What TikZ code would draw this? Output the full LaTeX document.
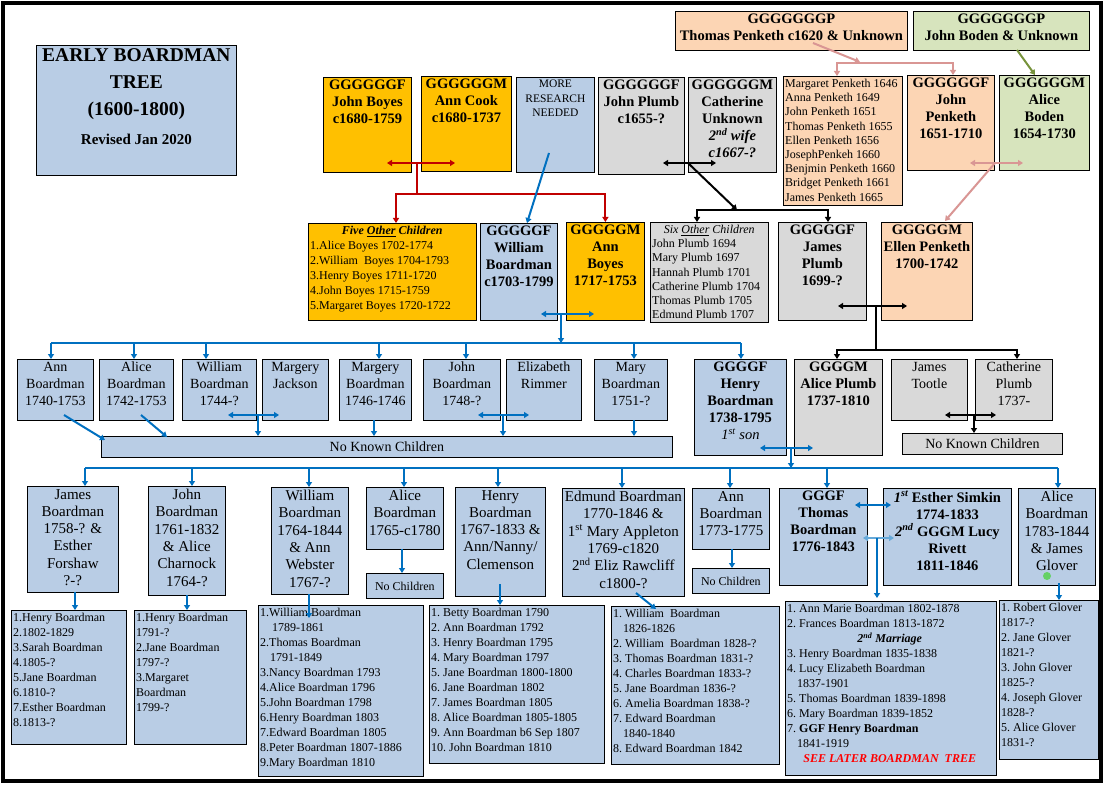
\documentclass[tikz,border=0pt]{standalone}
\usepackage{fontspec}
\setmainfont{Liberation Serif}
\usetikzlibrary{arrows.meta}
\definecolor{lb}{HTML}{B9CDE5}
\definecolor{org}{HTML}{FFC000}
\definecolor{gry}{HTML}{D9D9D9}
\definecolor{pch}{HTML}{FCD5B4}
\definecolor{grn}{HTML}{D7E4BD}
\definecolor{rd}{HTML}{C00000}
\definecolor{bl}{HTML}{0070C0}
\definecolor{pk}{HTML}{D99694}
\definecolor{gn}{HTML}{77933C}
\newcommand\bx[8]{\node[draw=black,line width=0.8pt,fill=#6,anchor=north west,inner sep=0pt,minimum width={(#4-#2)*1pt},minimum height={(#5-#3)*1pt}] (#1) at (#2,#3) {};
\node[anchor=north,inner sep=1pt,align=center,font=#7] (#1t) at ([yshift=-2pt]#1.north) {#8};}
\newcommand\lx[8]{\node[draw=black,line width=0.8pt,fill=#6,anchor=north west,inner sep=0pt,minimum width={(#4-#2)*1pt},minimum height={(#5-#3)*1pt}] (#1) at (#2,#3) {};
\node[anchor=north west,inner sep=1pt,align=left,font=#7] (#1t) at ([xshift=1pt,yshift=-2pt]#1.north west) {#8};}
\newcommand\fb{\fontsize{14.5}{17}\selectfont\bfseries}
\newcommand\fr{\fontsize{15}{17.3}\selectfont}
\newcommand\fs{\fontsize{14}{17}\selectfont}
\newcommand\fm{\fontsize{12}{15}\selectfont}
\newcommand\fp{\fontsize{12}{14.2}\selectfont}
\tikzset{ar/.style={-{Triangle[length=5pt,width=6pt]},line width=2pt},
 dar/.style={{Triangle[length=5pt,width=6pt]}-{Triangle[length=5pt,width=6pt]},line width=2pt}}
\begin{document}
\begin{tikzpicture}[x=1pt,y=-1pt]
\fill[white] (0,0) rectangle (1108,786);
\useasboundingbox (0,0) rectangle (1108,786);
\draw[line width=3.5pt] (3,3) rectangle (1101,781);
% title
\bx{title}{36}{45}{236}{175}{lb}{\fontsize{19.5}{27}\selectfont\bfseries}{EARLY BOARDMAN\\TREE\\(1600-1800)\\[2pt]{\fontsize{15}{18}\selectfont Revised Jan 2020}}
% top row
\bx{tp}{675}{11}{907}{50}{pch}{\fb}{GGGGGGGP\\Thomas Penketh c1620 \& Unknown}
\bx{jb}{913}{11}{1089}{50}{grn}{\fb}{GGGGGGGP\\John Boden \& Unknown}
\bx{jboy}{323}{77}{411}{172}{org}{\fb}{GGGGGGF\\John Boyes\\c1680-1759}
\bx{acook}{421}{76}{511}{171}{org}{\fb}{GGGGGGM\\Ann Cook\\c1680-1737}
\bx{mrn}{516}{77}{594}{172}{lb}{\fontsize{11.5}{14.5}\selectfont}{MORE\\RESEARCH\\NEEDED}
\bx{jplumb}{598}{77}{684}{174}{gry}{\fb}{GGGGGGF\\John Plumb\\c1655-?}
\bx{cath}{688}{77}{776}{172}{gry}{\fb}{GGGGGGM\\Catherine\\Unknown\\\itshape 2\textsuperscript{nd} wife\\\itshape c1667-?}
\lx{pkl}{783}{76}{902}{205}{pch}{\fp}{Margaret Penketh 1646\\Anna Penketh 1649\\John Penketh 1651\\Thomas Penketh 1655\\Ellen Penketh 1656\\JosephPenkeh 1660\\Benjmin Penketh 1660\\Bridget Penketh 1661\\James Penketh 1665}
\bx{jpen}{907}{75}{994}{170}{pch}{\fb}{GGGGGGF\\John\\Penketh\\1651-1710}
\bx{abod}{999}{75}{1089}{170}{grn}{\fb}{GGGGGGM\\Alice\\Boden\\1654-1730}
% row 2
\lx{five}{308}{223}{476}{320}{org}{\fm}{\hbox to 164pt{\hfil\bfseries\itshape Five \underline{Other} Children\hfil}\\1.Alice Boyes 1702-1774\\2.William\ \ Boyes 1704-1793\\3.Henry Boyes 1711-1720\\4.John Boyes 1715-1759\\5.Margaret Boyes 1720-1722}
\bx{wb}{480}{223}{557}{320}{lb}{\fb}{GGGGGF\\William\\Boardman\\c1703-1799}
\bx{aboy}{566}{222}{644}{320}{org}{\fb}{GGGGGM\\Ann\\Boyes\\1717-1753}
\lx{six}{650}{222}{768}{322}{gry}{\fp}{\hbox to 114pt{\hfil\itshape Six \underline{Other} Children\hfil}\\John Plumb 1694\\Mary Plumb 1697\\Hannah Plumb 1701\\Catherine Plumb 1704\\Thomas Plumb 1705\\Edmund Plumb 1707}
\bx{jamp}{778}{222}{866}{320}{gry}{\fb}{GGGGGF\\James\\Plumb\\1699-?}
\bx{ellen}{881}{222}{972}{320}{pch}{\fb}{GGGGGM\\Ellen Penketh\\1700-1742}
% row 3
\bx{r3a}{17}{359}{93}{420}{lb}{\fs}{Ann\\Boardman\\1740-1753}
\bx{r3b}{99}{359}{173}{420}{lb}{\fs}{Alice\\Boardman\\1742-1753}
\bx{r3c}{182}{359}{256}{420}{lb}{\fs}{William\\Boardman\\1744-?}
\bx{r3d}{262}{359}{328}{420}{lb}{\fs}{Margery\\Jackson}
\bx{r3e}{339}{359}{411}{420}{lb}{\fs}{Margery\\Boardman\\1746-1746}
\bx{r3f}{423}{359}{500}{420}{lb}{\fs}{John\\Boardman\\1748-?}
\bx{r3g}{506}{359}{581}{420}{lb}{\fs}{Elizabeth\\Rimmer}
\bx{r3h}{594}{359}{667}{420}{lb}{\fs}{Mary\\Boardman\\1751-?}
\bx{hen}{694}{359}{786}{455}{lb}{\fb}{GGGGF\\Henry\\Boardman\\1738-1795\\\itshape\mdseries 1\textsuperscript{st} son}
\bx{aplu}{794}{359}{882}{455}{gry}{\fb}{GGGGM\\Alice Plumb\\1737-1810}
\bx{jtoo}{891}{359}{967}{420}{gry}{\fs}{James\\Tootle}
\bx{cplu}{975}{359}{1052}{420}{gry}{\fs}{Catherine\\Plumb\\1737-}
\node[draw=black,line width=0.8pt,fill=lb,anchor=north west,minimum width=571pt,minimum height=21pt,inner sep=0pt,font=\fs] (nkc) at (101,436) {No Known Children};
\node[draw=black,line width=0.8pt,fill=gry,anchor=north west,minimum width=160pt,minimum height=21pt,inner sep=0pt,font=\fs] (nkc2) at (902,433) {No Known Children};
% row 4
\bx{j4}{27}{486}{118}{592}{lb}{\fr}{James\\Boardman\\1758-? \&\\Esther\\Forshaw\\?-?}
\bx{jo4}{148}{486}{225}{595}{lb}{\fr}{John\\Boardman\\1761-1832\\\& Alice\\Charnock\\1764-?}
\bx{w4}{271}{487}{348}{594}{lb}{\fr}{William\\Boardman\\1764-1844\\\& Ann\\Webster\\1767-?}
\bx{a4}{366}{487}{443}{549}{lb}{\fr}{Alice\\Boardman\\1765-c1780}
\node[draw=black,line width=0.8pt,fill=lb,anchor=north west,minimum width=77pt,minimum height=25pt,inner sep=0pt,font=\fm] (nc1) at (366,573) {No Children};
\bx{h4}{455}{487}{545}{596}{lb}{\fr}{Henry\\Boardman\\1767-1833 \&\\Ann/Nanny/\\Clemenson}
\bx{e4}{562}{488}{684}{596}{lb}{\fr}{Edmund Boardman\\1770-1846 \&\\1\textsuperscript{st} Mary Appleton\\1769-c1820\\2\textsuperscript{nd} Eliz Rawcliff\\c1800-?}
\bx{an4}{692}{488}{769}{549}{lb}{\fr}{Ann\\Boardman\\1773-1775}
\node[draw=black,line width=0.8pt,fill=lb,anchor=north west,minimum width=77pt,minimum height=25pt,inner sep=0pt,font=\fm] (nc2) at (692,568) {No Children};
\bx{t4}{779}{488}{867}{585}{lb}{\fb}{GGGF\\Thomas\\Boardman\\1776-1843}
\bx{es4}{883}{488}{1011}{585}{lb}{\fb}{\itshape 1\textsuperscript{st}\upshape\ Esther Simkin\\1774-1833\\\itshape 2\textsuperscript{nd}\upshape\ GGGM Lucy\\Rivett\\1811-1846}
\bx{al4}{1018}{488}{1095}{585}{lb}{\fr}{Alice\\Boardman\\1783-1844\\\& James\\Glover}
% row 5
\lx{j5}{11}{610}{126}{744}{lb}{\fm}{1.Henry Boardman\\2.1802-1829\\3.Sarah Boardman\\4.1805-?\\5.Jane Boardman\\6.1810-?\\7.Esther Boardman\\8.1813-?}
\lx{jo5}{134}{610}{246}{744}{lb}{\fm}{1.Henry Boardman\\1791-?\\2.Jane Boardman\\1797-?\\3.Margaret\\Boardman\\1799-?}
\lx{w5}{258}{605}{423}{776}{lb}{\fm}{1.William Boardman\\\hspace*{12pt}1789-1861\\2.Thomas Boardman\\\hspace*{10pt}1791-1849\\3.Nancy Boardman 1793\\4.Alice Boardman 1796\\5.John Boardman 1798\\6.Henry Boardman 1803\\7.Edward Boardman 1805\\8.Peter Boardman 1807-1886\\9.Mary Boardman 1810}
\lx{h5}{429}{605}{604}{763}{lb}{\fm}{1.\ Betty Boardman 1790\\2.\ Ann Boardman 1792\\3.\ Henry Boardman 1795\\4.\ Mary Boardman 1797\\5.\ Jane Boardman 1800-1800\\6.\ Jane Boardman 1802\\7.\ James Boardman 1805\\8.\ Alice Boardman 1805-1805\\9.\ Ann Boardman b6 Sep 1807\\10.\ John Boardman 1810}
\lx{e5}{611}{606}{779}{764}{lb}{\fm}{1.\ William\ \ Boardman\\\hspace*{10pt}1826-1826\\2.\ William\ \ Boardman 1828-?\\3.\ Thomas Boardman 1831-?\\4.\ Charles Boardman 1833-?\\5.\ Jane Boardman 1836-?\\6.\ Amelia Boardman 1838-?\\7.\ Edward Boardman\\\hspace*{10pt}1840-1840\\8.\ Edward Boardman 1842}
\lx{t5}{785}{601}{996}{775}{lb}{\fm}{1.\ Ann Marie Boardman 1802-1878\\2.\ Frances Boardman 1813-1872\\\hbox to 205pt{\hfil\bfseries\itshape 2\textsuperscript{nd} Marriage\hfil}\\3.\ Henry Boardman 1835-1838\\4.\ Lucy Elizabeth Boardman\\\hspace*{10pt}1837-1901\\5.\ Thomas Boardman 1839-1898\\6.\ Mary Boardman 1839-1852\\7.\ \textbf{GGF Henry Boardman}\\\hspace*{10pt}1841-1919\\\hbox to 205pt{\hfil\bfseries\itshape\color{red} SEE LATER BOARDMAN\ \ TREE\hfil}}
\lx{g5}{999}{600}{1098}{759}{lb}{\fm}{1.\ Robert Glover\\1817-?\\2.\ Jane Glover\\1821-?\\3.\ John Glover\\1825-?\\4.\ Joseph Glover\\1828-?\\5.\ Alice Glover\\1831-?}
\fill[green!70!black!60] (1047,576) circle (4pt);
% connectors top
\coordinate (rc) at (417,163);
\draw[dar,rd] (387,163) -- (455,163);
\draw[line width=2pt,rd] (rc) -- (417,194);
\draw[ar,rd] (417,194) -| (five.north -| 396,0);
\draw[ar,rd] (417,194) -| (aboy.north);
\draw[ar,bl] (549,153) -- (527,223);
\draw[dar,bl] (541,314) -- (594,314);
\draw[ar,bl] (561,314) -- (561,343);
\draw[dar,black] (663,163) -- (716,163);
\draw[ar,black] (688,163) -- (737,210);
\draw[ar,black] (737,210) -| (697,222);
\draw[ar,black] (737,210) -| (jamp.north -| 828,0);
\draw[ar,pk] (813,43) -- (860,62);
\draw[ar,pk] (860,63) -| (837,76);
\draw[ar,pk] (860,63) -| (953,75);
\draw[ar,gn] (1017,50) -- (1035,75);
\draw[dar,pk] (970,163) -- (1023,163);
\draw[ar,pk] (995,163) -- (945,221);
\draw[dar,black] (838,306) -- (907,306);
\draw[line width=2pt] (876,306) -- (876,350);
\draw[ar] (876,350) -| (aplu.north -| 837,0);
\draw[ar] (876,350) -| (cplu.north -| 1017,0);
% row3 connectors
\draw[line width=2pt,bl] (51,343) -- (741,343);
\foreach \x/\n in {51/r3a,134/r3b,206/r3c,379/r3e,466/r3f,634/r3h,741/hen}{\draw[ar,bl] (\x,343) -- (\n.north -| \x,0);}
\draw[ar,bl] (64,415) -- (105,440);
\draw[ar,bl] (141,415) -- (167,437);
\draw[dar,bl] (228,415) -- (279,415);
\draw[ar,bl] (258,415) -- (258,436);
\draw[ar,bl] (374,420) -- (374,436);
\draw[dar,bl] (478,415) -- (529,415);
\draw[ar,bl] (503,415) -- (503,436);
\draw[ar,bl] (634,420) -- (634,436);
\draw[dar,black] (945,415) -- (996,415);
\draw[ar,black] (974,415) -- (974,433);
\draw[dar,bl] (760,448) -- (813,448);
\draw[ar,bl] (791,448) -- (791,468);
% row4 connectors
\draw[line width=2.5pt,bl] (85,468) -- (1058,468);
\foreach \x/\n in {85/j4,192/jo4,309/w4,404/a4,498/h4,622/e4,730/an4,827/t4,1058/al4}{\draw[ar,bl] (\x,468) -- (\n.north -| \x,0);}
\draw[ar,bl] (75,592) -- (75,610);
\draw[ar,bl] (187,595) -- (187,610);
\draw[ar,bl] (309,594) -- (309,618);
\draw[ar,bl] (402,549) -- (402,573);
\draw[ar,bl] (500,584) -- (500,605);
\draw[ar,bl] (636,593) -- (656,609);
\draw[ar,bl] (732,549) -- (732,568);
\draw[dar,bl] (855,505) -- (891,505);
\draw[dar,bl!60] (863,538) -- (894,538);
\draw[ar,bl] (877,538) -- (877,598);
\draw[ar,bl] (1059,583) -- (1059,600);
\end{tikzpicture}
\end{document}
